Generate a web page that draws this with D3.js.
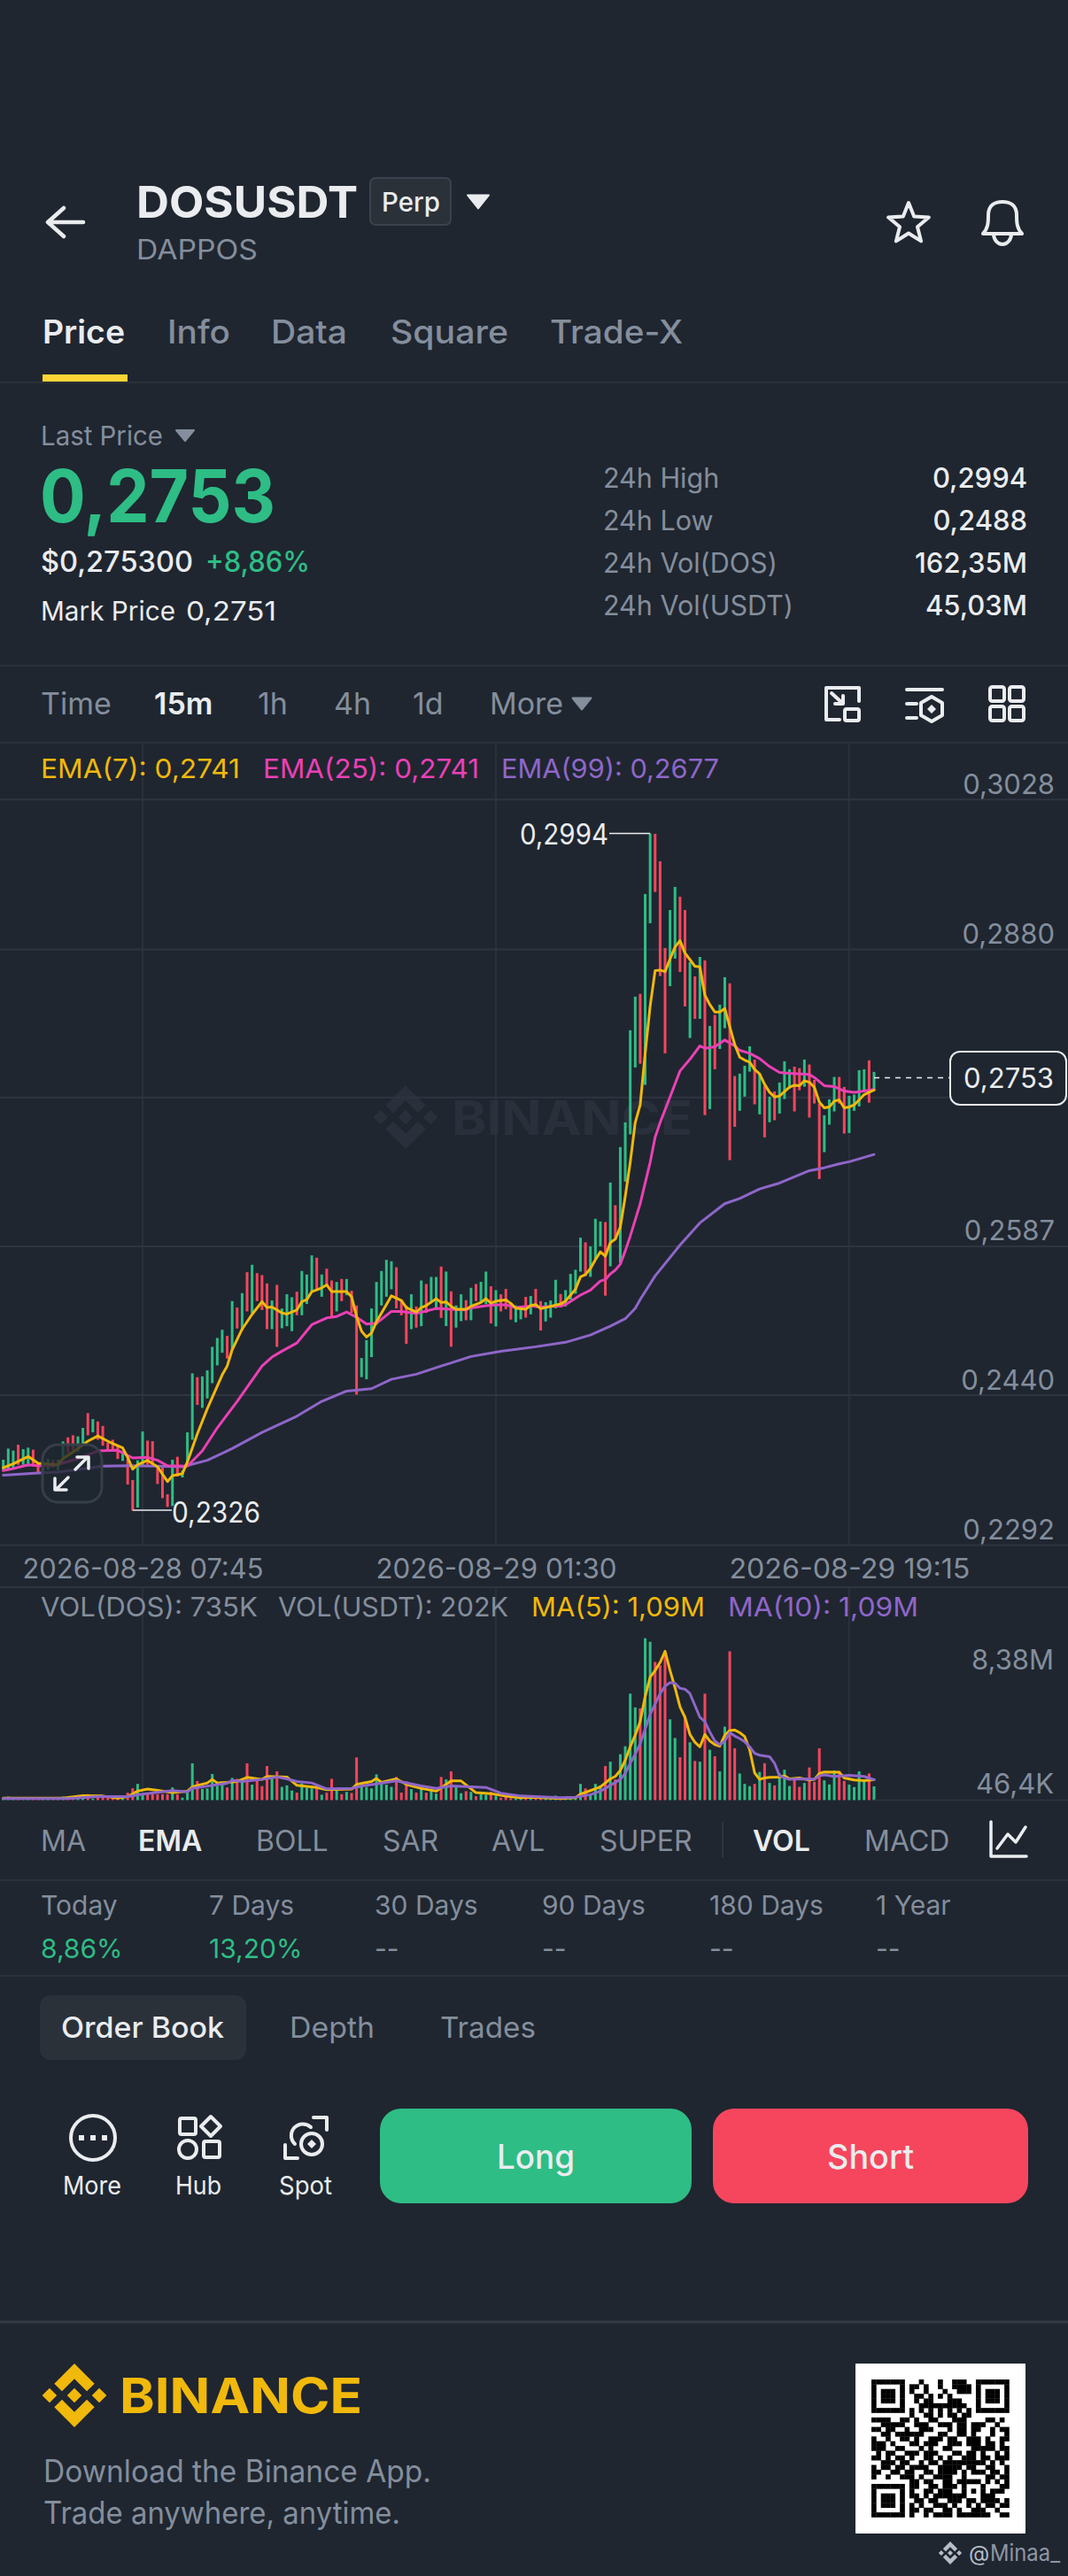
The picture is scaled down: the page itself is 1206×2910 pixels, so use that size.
<!DOCTYPE html>
<html>
<head>
<meta charset="utf-8">
<script src="https://d3js.org/d3.v7.min.js"></script>
<style>
html,body{margin:0;padding:0;background:#1f2630;}
svg{display:block;}
text{font-family:Inter,"Open Sans",sans-serif;}
</style>
</head>
<body>
<svg id="c" width="1206" height="2910"></svg>
<script>
// ---------- chart data ----------
const candleHigh=[0.23759,0.23869,0.23849,0.23907,0.23863,0.23878,0.23858,0.23724,0.23738,0.23767,0.23759,0.23759,0.23939,0.23980,0.24000,0.23989,0.24073,0.24219,0.24160,0.24137,0.24093,0.23927,0.23956,0.23898,0.23840,0.23767,0.23558,0.23753,0.24038,0.23948,0.23942,0.23695,0.23680,0.23418,0.23759,0.23788,0.23651,0.24029,0.24611,0.24574,0.24582,0.24641,0.24873,0.24961,0.25042,0.24981,0.25325,0.25261,0.25403,0.25610,0.25683,0.25601,0.25581,0.25499,0.25331,0.25485,0.25252,0.25392,0.25363,0.25418,0.25622,0.25587,0.25776,0.25753,0.25587,0.25645,0.25528,0.25514,0.25543,0.25543,0.25427,0.25281,0.24763,0.24940,0.25252,0.25514,0.25622,0.25732,0.25718,0.25659,0.25339,0.25281,0.25392,0.25272,0.25528,0.25494,0.25563,0.25563,0.25666,0.25616,0.25421,0.25282,0.25392,0.25334,0.25456,0.25494,0.25515,0.25616,0.25471,0.25433,0.25392,0.25445,0.25311,0.25282,0.25273,0.25366,0.25375,0.25445,0.25325,0.25314,0.25331,0.25535,0.25395,0.25433,0.25593,0.25634,0.25951,0.25905,0.25864,0.26137,0.26111,0.26105,0.26495,0.26271,0.26845,0.27089,0.27998,0.28330,0.28358,0.29343,0.29940,0.29937,0.29666,0.28810,0.29185,0.29413,0.29316,0.29185,0.28670,0.28530,0.28722,0.28688,0.28041,0.28149,0.28251,0.28522,0.28461,0.27546,0.27570,0.27648,0.27840,0.27709,0.27570,0.27447,0.27343,0.27395,0.27482,0.27692,0.27613,0.27639,0.27624,0.27709,0.27660,0.27508,0.27275,0.27159,0.27316,0.27537,0.27537,0.27439,0.27351,0.27363,0.27604,0.27613,0.27701,0.27587];
const candleLow=[0.23651,0.23665,0.23680,0.23709,0.23709,0.23695,0.23695,0.23636,0.23622,0.23660,0.23680,0.23651,0.23782,0.23826,0.23855,0.23840,0.23898,0.24000,0.24029,0.23956,0.23898,0.23846,0.23840,0.23767,0.23747,0.23514,0.23258,0.23287,0.23695,0.23709,0.23709,0.23520,0.23380,0.23293,0.23302,0.23593,0.23584,0.23724,0.23956,0.24300,0.24271,0.24364,0.24515,0.24690,0.24815,0.24757,0.24844,0.25054,0.25034,0.25223,0.25208,0.25325,0.25237,0.25048,0.25048,0.24873,0.25057,0.25077,0.25028,0.25185,0.25185,0.25296,0.25427,0.25441,0.25368,0.25470,0.25173,0.25223,0.25325,0.25383,0.25208,0.24402,0.24574,0.24553,0.24772,0.25092,0.25281,0.25368,0.25441,0.25252,0.25185,0.24903,0.25048,0.25063,0.25077,0.25208,0.25325,0.25237,0.25159,0.25078,0.24874,0.25063,0.25127,0.25136,0.25136,0.25325,0.25311,0.25296,0.25104,0.25075,0.25223,0.25244,0.25142,0.25116,0.25145,0.25162,0.25194,0.25261,0.25034,0.25124,0.25162,0.25253,0.25261,0.25273,0.25340,0.25398,0.25616,0.25573,0.25564,0.25736,0.25866,0.25378,0.25668,0.25930,0.25703,0.26504,0.26970,0.27631,0.27668,0.27459,0.29054,0.29363,0.28533,0.27770,0.28434,0.28705,0.28574,0.28233,0.27922,0.28111,0.28111,0.27160,0.27220,0.27613,0.27814,0.28018,0.26716,0.27045,0.27203,0.27343,0.27590,0.27267,0.27168,0.26941,0.27090,0.27110,0.27176,0.27319,0.27421,0.27197,0.27406,0.27441,0.27136,0.27275,0.26530,0.26795,0.27066,0.27197,0.27275,0.26978,0.26984,0.27203,0.27246,0.27395,0.27284,0.27406];
const candleDir=("GGGRGGRRGG"+"RGGRRGGRGR"+"RRRRGRRGGR"+"RRRRGRGGGR"+"GGGGGRGRGR"+"GRRRGRGGGR"+"GGGRGRRGRG"+"RRGGGGGGGR"+"RRGRGRGGRG"+"RGGRGRGGRG"+"RRRGGRGRRG"+"GGRGGGGRGG"+"GRGRGGGGRG"+"GRRRGGRRGR"+"GRGRGGRRGG"+"GRGRGRGGGR"+"RGRRRGGGRR"+"GGGGRG").split("");
const volumeM=[0.08,0.19,0.13,0.08,0.10,0.08,0.06,0.05,0.10,0.06,0.06,0.08,0.19,0.14,0.11,0.24,0.14,0.32,0.08,0.16,0.16,0.11,0.10,0.08,0.08,0.40,0.63,0.87,0.32,0.32,0.32,0.32,0.32,0.32,0.68,0.32,0.13,0.40,1.97,1.02,0.60,0.63,1.40,0.76,1.00,0.68,1.19,1.14,1.00,1.97,0.83,1.03,0.75,1.83,1.16,1.54,0.71,0.79,0.51,0.40,0.90,0.67,0.63,0.79,0.29,0.40,1.14,0.56,0.32,0.44,0.38,2.29,0.79,0.71,0.63,1.38,0.87,0.83,0.71,1.24,0.40,1.00,0.59,0.40,0.59,0.40,0.51,0.35,1.24,1.11,1.54,0.71,0.37,0.48,0.44,0.21,0.32,0.29,0.44,0.24,0.13,0.22,0.11,0.10,0.11,0.16,0.10,0.08,0.08,0.08,0.06,0.24,0.06,0.10,0.10,0.16,0.87,0.63,0.32,0.87,0.79,1.83,2.06,1.11,2.46,2.89,5.71,4.97,4.92,8.68,8.49,7.41,7.22,7.94,4.33,3.33,2.30,4.52,3.10,2.10,2.06,5.71,2.70,2.35,1.54,3.94,7.98,2.78,1.43,0.87,0.75,0.87,1.51,1.98,0.92,0.79,1.43,1.63,0.76,1.08,0.71,0.92,1.75,0.98,2.78,1.06,0.84,1.59,1.56,1.03,0.83,0.70,1.54,1.11,1.43,0.735];

const ema7Index=[0,2,5,7,11,12,15,17,19,21,24,25,26,27,29,31,33,34,36,37,39,41,44,45,46,48,50,52,53,54,56,57,58,59,60,61,62,63,64,65,66,69,70,71,72,73,74,75,77,78,80,81,83,84,85,87,88,89,90,91,93,94,96,97,98,99,101,102,103,105,106,107,108,110,112,113,115,116,117,118,119,120,121,122,123,124,125,126,127,128,129,130,131,132,133,134,135,136,137,138,139,140,141,142,143,144,145,146,147,148,149,150,151,152,153,154,155,156,157,158,159,160,161,162,163,164,165,166,167,168,169,170,171,172,173,174,175];
const ema7=[0.2368,0.23718,0.23791,0.23724,0.23709,0.2377,0.23869,0.23942,0.23994,0.23942,0.23875,0.23782,0.23665,0.23709,0.23753,0.23689,0.23543,0.23601,0.23622,0.23738,0.24015,0.24262,0.24597,0.24684,0.24844,0.25048,0.25194,0.25319,0.25261,0.25266,0.25208,0.25197,0.25217,0.25237,0.25319,0.25339,0.25418,0.25435,0.25456,0.25485,0.25418,0.25418,0.25368,0.25173,0.25028,0.2497,0.2501,0.25121,0.2529,0.25377,0.2533,0.25261,0.25217,0.25261,0.25281,0.25348,0.25311,0.25317,0.25273,0.25244,0.25244,0.25273,0.25311,0.25349,0.25305,0.25325,0.25337,0.25302,0.25255,0.25244,0.25282,0.2529,0.2525,0.25273,0.25296,0.25325,0.25442,0.25564,0.25587,0.25646,0.25733,0.25811,0.25768,0.25902,0.25937,0.26053,0.26359,0.26694,0.27087,0.27261,0.27771,0.28236,0.28586,0.28592,0.28577,0.28702,0.28819,0.28883,0.2876,0.28696,0.2863,0.28624,0.28344,0.28251,0.28178,0.28178,0.28213,0.28033,0.27858,0.27733,0.27704,0.27683,0.27611,0.27567,0.27465,0.27386,0.2734,0.27349,0.27392,0.27436,0.27456,0.27451,0.275,0.27485,0.27436,0.2729,0.27232,0.27241,0.27299,0.27311,0.27232,0.27241,0.27261,0.27311,0.27363,0.27386,0.27407];

const ema25Index=[0,2,5,7,10,15,19,23,26,29,31,33,37,40,43,47,52,54,56,59,62,65,67,69,71,73,75,78,80,83,87,90,93,94,97,99,101,103,106,108,112,113,116,118,120,121,122,123,124,125,126,127,128,129,130,131,132,133,136,138,140,141,143,145,147,148,150,152,154,156,158,162,163,165,167,169,171,173,175];
const ema25=[0.23651,0.23671,0.23709,0.237,0.237,0.23767,0.23846,0.23852,0.23776,0.23782,0.23753,0.237,0.23695,0.23846,0.24073,0.24335,0.24684,0.24772,0.2483,0.24911,0.25092,0.25159,0.25173,0.25217,0.25165,0.25098,0.25106,0.25223,0.25223,0.25203,0.25252,0.25244,0.25238,0.25258,0.25279,0.25288,0.25288,0.25261,0.25276,0.25267,0.25276,0.2529,0.25384,0.25433,0.25523,0.25538,0.25593,0.25631,0.25689,0.2582,0.25966,0.26126,0.26286,0.2649,0.26694,0.26941,0.27087,0.27212,0.27596,0.27712,0.27844,0.2782,0.27835,0.27902,0.27844,0.278,0.27771,0.27718,0.2764,0.27582,0.27573,0.27561,0.27532,0.27451,0.27442,0.27398,0.27386,0.27398,0.27413];

const ema99Index=[0,7,11,20,25,31,36,41,46,52,59,64,69,74,78,83,88,90,94,100,107,113,118,122,125,127,128,131,136,140,145,148,152,156,162,165,168,170,175];
const ema99=[0.23607,0.23628,0.23636,0.23695,0.237,0.23695,0.23689,0.23753,0.23869,0.24029,0.24189,0.24335,0.24437,0.2446,0.24553,0.24603,0.24684,0.24714,0.24778,0.2483,0.24874,0.24918,0.2499,0.25078,0.25151,0.25253,0.2534,0.25573,0.25878,0.26097,0.26286,0.26338,0.26432,0.2649,0.26612,0.26641,0.26679,0.267,0.26772];

const ma5Index=[0,12,16,20,23,25,27,29,31,34,37,38,41,42,43,45,47,49,52,53,57,59,63,65,70,71,74,75,76,79,81,84,87,90,92,95,98,101,104,106,112,115,116,118,120,122,123,124,125,126,127,128,129,130,131,132,133,134,135,136,137,138,139,140,141,142,143,144,145,146,147,148,149,150,151,152,153,154,156,157,158,160,162,163,164,165,168,169,171,173,175];
const ma5=[0.11,0.11,0.24,0.22,0.11,0.19,0.48,0.59,0.52,0.40,0.48,0.71,0.92,1.11,0.92,0.95,1.00,1.22,1.11,1.27,1.24,0.79,0.68,0.56,0.59,0.84,1.00,1.16,0.95,1.14,0.84,0.63,0.48,1.03,1.03,0.40,0.35,0.21,0.13,0.15,0.08,0.13,0.32,0.51,0.71,1.14,1.27,1.59,2.14,2.86,3.49,4.21,5.56,6.59,6.95,7.38,7.98,6.95,6.03,5.00,4.44,3.52,3.10,2.86,3.52,3.17,2.98,2.89,3.49,3.73,3.76,3.62,3.41,2.70,1.46,1.11,1.19,1.22,1.24,1.30,1.14,1.19,1.08,1.11,1.43,1.51,1.49,1.19,1.08,1.05,1.09];

const ma10Index=[0,13,19,25,28,31,34,37,38,42,45,46,48,52,55,57,59,62,65,70,72,75,79,84,87,90,97,100,104,106,112,115,118,120,122,124,125,126,127,128,129,130,131,132,133,134,135,136,137,138,139,140,141,142,143,144,145,146,147,148,149,150,151,152,154,155,156,157,158,161,163,164,165,167,170,173,175];
const ma10=[0.08,0.08,0.19,0.19,0.32,0.41,0.51,0.44,0.63,0.79,0.90,1.06,1.00,1.11,1.24,1.14,1.00,0.92,0.60,0.63,0.76,0.87,1.03,0.76,0.63,0.76,0.68,0.37,0.22,0.20,0.13,0.16,0.29,0.48,0.79,1.11,1.43,1.98,2.46,3.02,3.81,4.60,5.16,5.71,6.11,6.30,6.27,6.00,5.95,5.71,5.08,4.44,4.21,3.65,3.17,2.97,3.17,3.62,3.44,3.30,3.13,2.86,2.51,2.41,2.33,1.98,1.30,1.19,1.11,1.14,1.11,1.30,1.35,1.27,1.33,1.27,1.09];

const priceTicks=[0.3028,0.2880,0.2734,0.2587,0.2440,0.2292];
const priceTickLabels=["0,3028","0,2880","","0,2587","0,2440","0,2292"];
const timeTickIndex=[28,99,170];
const timeTickLabels=["2026-08-28 07:45","2026-08-29 01:30","2026-08-29 19:15"];
const volTicks=[8.38,0.0464];
const volTickLabels=["8,38M","46,4K"];
const lastPrice=0.2753, highPrice=0.2994, lowPrice=0.2326, highIndex=130, lowIndex=26;

// ---------- colours ----------
const UP="#2ebd85",DOWN="#f6465d",GRAY="#848e9c",WHITE="#eaecef",GRID="#2f3540",YEL="#f0b90b",PINK="#eb40b5",PURP="#8f66c9";

const svg=d3.select("#c");
const SVGW=1206;
svg.append("rect").attr("width",1206).attr("height",2910).attr("fill","#1f2630");

function t(x,cy,s,size,fill,opt){
  opt=opt||{};
  const e=svg.append("text").attr("x",x).attr("y",cy).attr("dy",".36em").attr("font-size",size).attr("fill",fill)
    .attr("font-weight",opt.w||400).attr("text-anchor",opt.a||"start").text(s);
  if(opt.len) e.attr("textLength",opt.len).attr("lengthAdjust","spacingAndGlyphs");
  return e;
}
function hline(y,c,w){svg.append("line").attr("x1",0).attr("x2",SVGW).attr("y1",y).attr("y2",y).attr("stroke",c||"#2b3139").attr("stroke-width",w||2);}
function logo(cx,cy,r,fill,op){
  const g=svg.append("g").attr("transform",`translate(${cx},${cy}) scale(${r})`).attr("fill",fill).attr("opacity",op||1);
  g.append("path").attr("d","M0,-1L.63,-.37L.39,-.13L0,-.52L-.39,-.13L-.63,-.37Z");
  g.append("path").attr("d","M0,1L.63,.37L.39,.13L0,.52L-.39,.13L-.63,.37Z");
  g.append("path").attr("d","M0,-.23L.23,0L0,.23L-.23,0Z");
  g.append("path").attr("d","M-.78,-.23L-.55,0L-.78,.23L-1.01,0Z");
  g.append("path").attr("d","M.78,-.23L1.01,0L.78,.23L.55,0Z");
}
function icon(d,sw,c){return svg.append("path").attr("d",d).attr("fill","none").attr("stroke",c||WHITE).attr("stroke-width",sw||4).attr("stroke-linejoin","round").attr("stroke-linecap","round");}
function tri(cx,cy,w,h,c){svg.append("path").attr("d",`M${cx-w/2},${cy-h/2}H${cx+w/2}L${cx},${cy+h/2}Z`).attr("fill",c).attr("stroke",c).attr("stroke-width",2).attr("stroke-linejoin","round");}

// ---------- header ----------
icon("M54,251H94M72,235L54,251L72,267",4.5);
t(154,228,"DOSUSDT",50,WHITE,{w:700,len:250});
svg.append("rect").attr("x",418).attr("y",201).attr("width",91).attr("height",53).attr("rx",6).attr("fill","#2b3139").attr("stroke","#3b424d").attr("stroke-width",2);
t(464,228,"Perp",30,WHITE,{a:"middle",w:500,len:66});
tri(540,228,24,15,WHITE);
t(154,282,"DAPPOS",31,GRAY,{len:137});
(function(){const pts=[];for(let k=0;k<10;k++){const r=k%2?10.5:24,a=-Math.PI/2+k*Math.PI/5;pts.push([1026+r*Math.cos(a),253+r*Math.sin(a)]);}
 icon("M"+pts.map(p=>p.join(",")).join("L")+"Z",4);})();
icon("M1110,264C1116,258 1116,250 1116,243C1116,232 1123,228 1132,228C1141,228 1148,232 1148,243C1148,250 1148,258 1154,264ZM1122,264a10,12 0 0 0 20,0",4);
const tabs=[["Price",48,93,WHITE,600],["Info",189,71,GRAY,500],["Data",306,86,GRAY,500],["Square",441,133,GRAY,500],["Trade-X",621,150,GRAY,500]];
tabs.forEach(d=>t(d[1],375,d[0],37,d[3],{w:d[4],len:d[2]}));
svg.append("rect").attr("x",48).attr("y",423).attr("width",96).attr("height",8).attr("fill","#fcd535");
hline(432);

// ---------- price block ----------
t(46,492,"Last Price",30,GRAY,{len:138});
tri(209,492,20,12,GRAY);
t(45,560,"0,2753",82,UP,{w:700,len:266});
t(46,634,"$0,275300",32,WHITE,{w:500,len:172});
t(232,634,"+8,86%",32,UP,{w:500,len:118});
t(46,690,"Mark Price",30,WHITE,{len:152});
t(210,690,"0,2751",30,WHITE,{len:102});
const statLabels=["24h High","24h Low","24h Vol(DOS)","24h Vol(USDT)"],statValues=["0,2994","0,2488","162,35M","45,03M"];
statLabels.forEach((s,i)=>{t(681,540+i*48,s,30.5,GRAY);t(1160,540+i*48,statValues[i],31,WHITE,{a:"end",w:500});});
hline(752);

// ---------- interval row ----------
[["Time",46,GRAY,400],["15m",174,WHITE,600],["1h",291,GRAY,400],["4h",377,GRAY,400],["1d",466,GRAY,400],["More",553,GRAY,400]].forEach(d=>t(d[1],795,d[0],34,d[2],{w:d[3]}));
tri(657,795,21,13,GRAY);
icon("M970,792V777H933V813H948M939,783L952,795M952,786V795H943",4);
svg.append("rect").attr("x",954).attr("y",801).attr("width",16).attr("height",13).attr("rx",2).attr("fill","none").attr("stroke",WHITE).attr("stroke-width",4);
icon("M1024,779H1064M1024,795H1035M1024,811H1035",4);
icon("M1052,787L1064,794V808L1052,815L1040,808V794Z",4);
svg.append("path").attr("d","M1052,796L1057,801L1052,806L1047,801Z").attr("fill",WHITE);
[[1118,776],[1140,776],[1118,798],[1140,798]].forEach(p=>svg.append("rect").attr("x",p[0]).attr("y",p[1]).attr("width",16).attr("height",16).attr("rx",2.5).attr("fill","none").attr("stroke",WHITE).attr("stroke-width",4));
hline(839);

// ---------- scales ----------
const x=d3.scaleLinear().domain([0,175]).range([3.7,987]);
const y=d3.scaleLinear().domain([0.2292,0.3028]).range([1745,902.7]);
const yv=d3.scaleLinear().domain([0,8.38]).range([2033.5,1857]);
const barW=3;

// watermark
logo(458,1262,36,"#2a303b");
svg.append("text").attr("x",510).attr("y",1282).attr("font-size",54).attr("font-weight",700).attr("fill","#2a303b").attr("textLength",272).attr("lengthAdjust","spacingAndGlyphs").text("BINANCE");

// grid and axes
const gridC=svg.append("g");
gridC.selectAll("line.v").data(timeTickIndex).join("line").attr("x1",d=>x(d)).attr("x2",d=>x(d)).attr("y1",840).attr("y2",1745).attr("stroke",GRID).attr("stroke-width",1.5);
const gridD=svg.append("g");
gridD.selectAll("line").data(timeTickIndex).join("line").attr("x1",d=>x(d)).attr("x2",d=>x(d)).attr("y1",1793).attr("y2",2034).attr("stroke",GRID).attr("stroke-width",1.5);

const yAxis=d3.axisRight(y).tickValues(priceTicks).tickSize(SVGW).tickFormat((d,i)=>priceTickLabels[i]);
const yG=svg.append("g").call(yAxis);
yG.select(".domain").remove();
yG.selectAll("line").attr("stroke",GRID).attr("stroke-width",2);
yG.selectAll("text").attr("x",1191).attr("dy",-6.5).attr("text-anchor","end").attr("font-size",31).attr("fill",GRAY).attr("font-family","Inter");

const xAxis=d3.axisBottom(x).tickValues(timeTickIndex).tickSize(0).tickFormat((d,i)=>timeTickLabels[i]);
const xG=svg.append("g").attr("transform","translate(0,1745)").call(xAxis);
xG.select(".domain").remove();
xG.selectAll("text").attr("y",0).attr("dy",38).attr("font-size",31).attr("fill",GRAY).attr("font-family","Inter").attr("textLength",272).attr("lengthAdjust","spacingAndGlyphs");
hline(1793,GRID,2);

// candles
const idx=d3.range(candleHigh.length);
svg.append("g").selectAll("rect").data(idx).join("rect")
  .attr("x",i=>x(i)-barW/2).attr("width",barW)
  .attr("y",i=>y(candleHigh[i])).attr("height",i=>Math.max(1,y(candleLow[i])-y(candleHigh[i])))
  .attr("fill",i=>candleDir[i]==="G"?UP:DOWN);

function series(ix,vals,scale,color,w){
  const line=d3.line().x(d=>x(d[0])).y(d=>scale(d[1])).curve(d3.curveLinear);
  svg.append("path").datum(ix.map((v,k)=>[v,vals[k]])).attr("d",line).attr("fill","none").attr("stroke",color).attr("stroke-width",w).attr("stroke-linejoin","round").attr("stroke-linecap","round");
}
series(ema99Index,ema99,y,PURP,3);
series(ema25Index,ema25,y,PINK,3);
series(ema7Index,ema7,y,YEL,3);

// extremes
function leader(i,val,txt,x2,tx,anchor,dyv){
  svg.append("line").attr("x1",x(i)).attr("x2",x2).attr("y1",y(val)).attr("y2",y(val)).attr("stroke","#eaecef").attr("stroke-width",1.5);
  t(tx,y(val)+dyv,txt,32,WHITE,{a:anchor,len:100});
}
leader(highIndex,highPrice,"0,2994",688,587,"start",1);
leader(lowIndex,lowPrice,"0,2326",194,194,"start",2);

// current price
svg.append("line").attr("x1",987).attr("x2",1072).attr("y1",y(lastPrice)).attr("y2",y(lastPrice)).attr("stroke","#eaecef").attr("stroke-width",1.5).attr("stroke-dasharray","6 6");
svg.append("rect").attr("x",1073).attr("y",1188).attr("width",131).attr("height",60).attr("rx",11).attr("fill","#1f2630").attr("stroke","#eaecef").attr("stroke-width",2);
t(1139,1218,"0,2753",31,WHITE,{a:"middle",len:102});

// expand button
svg.append("rect").attr("x",48).attr("y",1632).attr("width",67).attr("height",65).attr("rx",17).attr("fill","#1f2630").attr("fill-opacity",.78).attr("stroke","#373e49").attr("stroke-width",3);
icon("M85,1660L99,1646M87,1646H100V1659",3.5,WHITE);
icon("M77,1669L63,1683M75,1683H62V1670",3.5,WHITE);

// legend
t(46,868,"EMA(7): 0,2741",30,YEL,{len:225});
t(297,868,"EMA(25): 0,2741",30,PINK,{len:244});
t(566,868,"EMA(99): 0,2677",30,PURP,{len:246});

// ---------- volume ----------
t(46,1815,"VOL(DOS): 735K",30,GRAY,{len:245});
t(314,1815,"VOL(USDT): 202K",30,GRAY,{len:260});
t(600,1815,"MA(5): 1,09M",30,YEL,{len:196});
t(822,1815,"MA(10): 1,09M",30,PURP,{len:215});
svg.append("g").selectAll("rect").data(idx).join("rect")
  .attr("x",i=>x(i)-barW/2).attr("width",barW)
  .attr("y",i=>yv(volumeM[i])).attr("height",i=>yv(0)-yv(volumeM[i]))
  .attr("fill",i=>candleDir[i]==="G"?UP:DOWN);
series(ma5Index,ma5,yv,YEL,3);
series(ma10Index,ma10,yv,PURP,3);
svg.append("line").attr("x1",987).attr("x2",SVGW).attr("y1",2033.5).attr("y2",2033.5).attr("stroke",GRID).attr("stroke-width",1.5);
const vAxis=d3.axisRight(yv).tickValues(volTicks).tickSize(0).tickFormat((d,i)=>volTickLabels[i]);
const vG=svg.append("g").call(vAxis);
vG.select(".domain").remove();
vG.selectAll("text").attr("x",1190).attr("dy",(d,i)=>i==0?"28":"-7").attr("text-anchor","end").attr("font-size",31).attr("fill",GRAY).attr("font-family","Inter");

// ---------- indicator row ----------
[["MA",46,GRAY,400],["EMA",156,WHITE,600],["BOLL",289,GRAY,400],["SAR",432,GRAY,400],["AVL",555,GRAY,400],["SUPER",677,GRAY,400],["VOL",850,WHITE,600],["MACD",976,GRAY,400]].forEach(d=>t(d[1],2079,d[0],32,d[2],{w:d[3]}));
svg.append("line").attr("x1",816).attr("x2",816).attr("y1",2058).attr("y2",2098).attr("stroke",GRID).attr("stroke-width",2);
icon("M1119,2058V2097H1159M1126,2088L1138,2072L1147,2081L1158,2064",3.5);
hline(2124);
const statPeriods=["Today","7 Days","30 Days","90 Days","180 Days","1 Year"],statPct=["8,86%","13,20%","--","--","--","--"],statX=[46,236,423,612,801,989];
statPeriods.forEach((s,i)=>{t(statX[i],2152,s,30,GRAY);t(statX[i],2201,statPct[i],30,statPct[i]==="--"?GRAY:UP);});
hline(2232);

// ---------- order book tabs ----------
svg.append("rect").attr("x",45).attr("y",2254).attr("width",233).attr("height",73).attr("rx",12).attr("fill","#2b3139");
t(69,2290,"Order Book",33,WHITE,{w:500,len:184});
t(327,2290,"Depth",33,GRAY,{len:96});
t(497,2290,"Trades",33,GRAY,{len:108});

// ---------- bottom actions ----------
svg.append("circle").attr("cx",105).attr("cy",2415).attr("r",25).attr("fill","none").attr("stroke",WHITE).attr("stroke-width",4);
[92,105,118].forEach(a=>svg.append("rect").attr("x",a-3).attr("y",2412).attr("width",6).attr("height",6).attr("fill",WHITE));
t(104,2469,"More",29,WHITE,{a:"middle",len:66});
svg.append("rect").attr("x",203).attr("y",2393).attr("width",18).attr("height",18).attr("rx",2).attr("fill","none").attr("stroke",WHITE).attr("stroke-width",4);
icon("M238,2391L249,2402L238,2413L227,2402Z",4);
svg.append("circle").attr("cx",212).attr("cy",2428).attr("r",10).attr("fill","none").attr("stroke",WHITE).attr("stroke-width",4);
svg.append("rect").attr("x",230).attr("y",2419).attr("width",18).attr("height",18).attr("rx",2).attr("fill","none").attr("stroke",WHITE).attr("stroke-width",4);
t(224,2469,"Hub",29,WHITE,{a:"middle",len:52});
icon("M333,2422A13,13 0 1 1 351,2403M354,2392H369V2406M322,2423V2438H336",4);
svg.append("circle").attr("cx",352).attr("cy",2422).attr("r",12).attr("fill","none").attr("stroke",WHITE).attr("stroke-width",4);
svg.append("path").attr("d","M352,2417L357,2422L352,2427L347,2422Z").attr("fill",WHITE);
t(345,2469,"Spot",29,WHITE,{a:"middle",len:60});
svg.append("rect").attr("x",429).attr("y",2382).attr("width",352).attr("height",107).attr("rx",24).attr("fill",UP);
svg.append("rect").attr("x",805).attr("y",2382).attr("width",356).attr("height",107).attr("rx",24).attr("fill",DOWN);
t(605,2436,"Long",38,WHITE,{a:"middle",w:500,len:88});
t(983,2436,"Short",38,WHITE,{a:"middle",w:500,len:98});
hline(2623,"#353b46",3);

// ---------- footer ----------
logo(84,2706,36,YEL);
svg.append("text").attr("x",135).attr("y",2726).attr("font-size",55).attr("font-weight",700).attr("fill",YEL).attr("textLength",274).attr("lengthAdjust","spacingAndGlyphs").text("BINANCE");
t(49,2791,"Download the Binance App.",35,GRAY,{len:438});
t(49,2838,"Trade anywhere, anytime.",35,GRAY,{len:403});
const qrRows=[
"11111110001000100111001111111",
"10000010110100100111101000001",
"10111010100100010011101011101",
"10111010011010101000001011101",
"10111010010110001110001011101",
"10000010001111111111001000001",
"11111110101010101010101111111",
"00000000100110101101100000000",
"11110011010011000111000011010",
"00111110011100111011011100100",
"11011001001110001011011001011",
"00110111111000110011010001001",
"10010011010011101100111010011",
"11101000110111001110111011010",
"11100110001010011000011111011",
"01011001110111000110110100101",
"11010110100110101001110110111",
"00111011001011011111111101010",
"10110110111100111110110011001",
"11001101100110111101011101101",
"10010011101001111001000011011",
"00000000110110011011111010101",
"11111110110011011101000100011",
"10000010100110111001010101110",
"10111010110101111111000111000",
"10111010011011001110110111101",
"10111010101001110100101011011",
"10000010110110011010011100100",
"11111110100101111011111110011"];
svg.append("rect").attr("x",966).attr("y",2670).attr("width",192).attr("height",192).attr("fill","#fff");
const qrCells=[];qrRows.forEach((r,ri)=>r.split("").forEach((c,ci)=>{if(c==="1")qrCells.push([ci,ri]);}));
const qx=d3.scaleLinear().domain([0,29]).range([984,1139.5]),qy=d3.scaleLinear().domain([0,29]).range([2688,2843.5]);
svg.append("g").selectAll("rect").data(qrCells).join("rect").attr("x",d=>qx(d[0])).attr("y",d=>qy(d[1])).attr("width",qx(1)-qx(0)+.3).attr("height",qy(1)-qy(0)+.3).attr("fill","#000");
logo(1073,2884,13,"#b7bdc6");
t(1094,2884,"@",24,"#b7bdc6");
t(1118,2884,"Minaa_",26,"#8f96a3",{len:79});
</script>
</body>
</html>
